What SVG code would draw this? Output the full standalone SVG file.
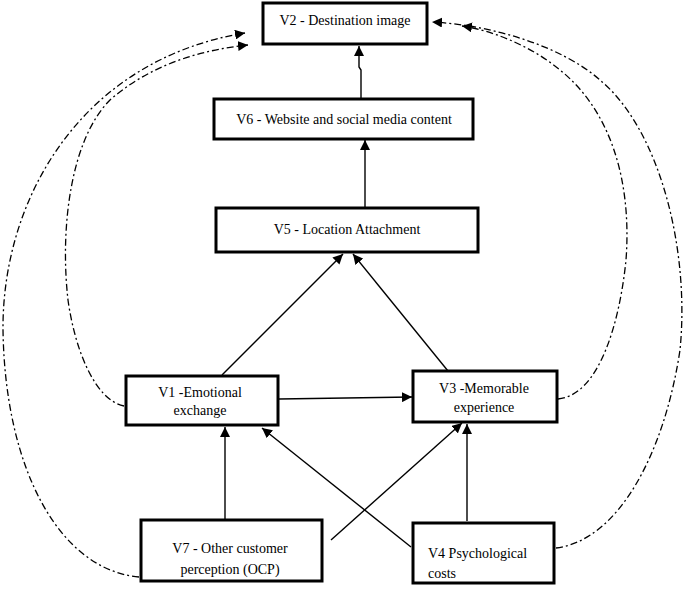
<svg xmlns="http://www.w3.org/2000/svg" width="685" height="609" viewBox="0 0 685 609">
<style>
.box{fill:#fff;stroke:#000;stroke-width:3}
.t{font-family:"Liberation Serif","Times New Roman",serif;font-size:14px;fill:#000}
.c{text-anchor:middle}
.ln{fill:none;stroke:#000;stroke-width:1.4;marker-end:url(#ah)}
.dd{fill:none;stroke:#000;stroke-width:1.3;stroke-dasharray:7,3,2,3;marker-end:url(#ah)}
</style>
<defs>
<marker id="ah" viewBox="0 0 10 10" refX="10" refY="5" markerWidth="10" markerHeight="10" markerUnits="userSpaceOnUse" orient="auto">
<path d="M0,0 L10,5 L0,10 z" fill="#000"/>
</marker>
</defs>
<rect width="685" height="609" fill="#fff"/>
<g id="connectors">
<path class="ln" d="M361,98 L361,70 L359,67 L359,46"/>
<path class="ln" d="M365,207 L365,140"/>
<path class="ln" d="M222,375 L343,254"/>
<path class="ln" d="M448,371 L353,254"/>
<path class="ln" d="M279,399 L412,397"/>
<path class="ln" d="M225,519 L225,427"/>
<path class="ln" d="M411,547 L262,428"/>
<path class="ln" d="M331,540 L462,423"/>
<path class="ln" d="M467,521 L467,424"/>
<path class="dd" d="M139,577 C60,570 5,470 3,330 C2,200 80,60 245,33"/>
<path class="dd" d="M124,406 C95,400 75,350 68,300 C60,230 70,140 110,100 C150,65 200,50 248,45"/>
<path class="dd" d="M558,399 C600,395 620,320 626,260 C632,180 610,110 560,70 C530,45 490,30 462,26"/>
<path class="dd" d="M556,548 C620,540 665,450 680,350 C690,250 660,130 600,80 C560,45 490,25 432,22"/>
</g>
<g id="V2"><rect class="box" x="263" y="3" width="164" height="41"/><text class="t c" x="345" y="25">V2 - Destination image</text></g>
<g id="V6"><rect class="box" x="214" y="99" width="259" height="40"/><text class="t c" x="344" y="124">V6 - Website and social media content</text></g>
<g id="V5"><rect class="box" x="216" y="208" width="262" height="44"/><text class="t c" x="347" y="234">V5 - Location Attachment</text></g>
<g id="V1"><rect class="box" x="126" y="376" width="152" height="49"/><text class="t c" x="200" y="397">V1 -Emotional</text><text class="t c" x="200" y="415">exchange</text></g>
<g id="V3"><rect class="box" x="413" y="371" width="144" height="51"/><text class="t c" x="484" y="393">V3 -Memorable</text><text class="t c" x="484" y="412">experience</text></g>
<g id="V7"><rect class="box" x="141" y="520" width="181" height="61"/><text class="t c" x="230" y="553">V7 - Other customer</text><text class="t c" x="230" y="574">perception (OCP)</text></g>
<g id="V4"><rect class="box" x="413" y="523" width="141" height="60"/><text class="t" x="428" y="558">V4 Psychological</text><text class="t" x="428" y="578">costs</text></g>
</svg>
